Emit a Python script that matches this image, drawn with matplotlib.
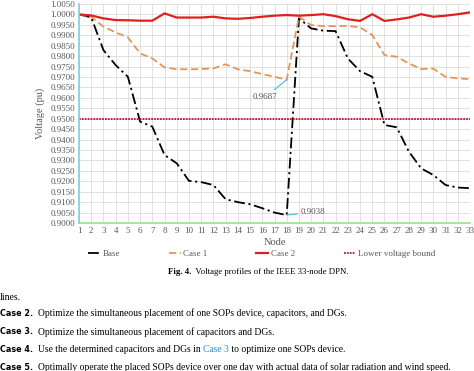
import matplotlib
matplotlib.use("Agg")
import matplotlib.pyplot as plt

nodes = list(range(1, 34))
base = [1.0000, 0.9986, 0.9829, 0.9757, 0.9701, 0.9486, 0.9462, 0.9326, 0.9286, 0.9202,
        0.9196, 0.9182, 0.9114, 0.9100, 0.9090, 0.9071, 0.9050, 0.9038, 0.9981, 0.9933,
        0.9922, 0.9920, 0.9789, 0.9728, 0.9701, 0.9470, 0.9459, 0.9342, 0.9262, 0.9230,
        0.9182, 0.9170, 0.9167]
case1 = [1.0000, 0.9989, 0.9941, 0.9914, 0.9890, 0.9813, 0.9789, 0.9746, 0.9737, 0.9737,
         0.9738, 0.9741, 0.9761, 0.9737, 0.9728, 0.9714, 0.9701, 0.9687, 0.9989, 0.9949,
         0.9944, 0.9944, 0.9945, 0.9938, 0.9901, 0.9805, 0.9797, 0.9765, 0.9738, 0.9740,
         0.9701, 0.9693, 0.9690]
case2 = [1.0000, 0.9995, 0.9981, 0.9973, 0.9972, 0.9970, 0.9970, 1.0005, 0.9985, 0.9985,
         0.9985, 0.9989, 0.9981, 0.9979, 0.9983, 0.9989, 0.9994, 0.9997, 0.9994, 0.9997,
         1.0001, 0.9992, 0.9977, 0.9969, 1.0001, 0.9969, 0.9976, 0.9985, 1.0001, 0.9989,
         0.9994, 1.0001, 1.0010]
bound = 0.95
yticks = [0.9000 + 0.005 * i for i in range(22)]

plt.rcParams['font.family'] = ['Liberation Serif', 'DejaVu Serif']
fig = plt.figure(figsize=(4.74, 3.71), dpi=100)
ax = fig.add_axes([79 / 474, 1 - 223 / 371, (470 - 79) / 474, 219 / 371])

grid_c = '#dcdcdc'
ax.set_xticks(nodes)
ax.set_yticks(yticks)
ax.grid(True, color=grid_c, lw=0.6)
ax.set_axisbelow(True)

ax.plot(nodes, base, color='black', lw=1.3, ls=(0, (6, 2, 1.2, 2)), label='Base')
ax.plot(nodes, case1, color='#e5955a', lw=1.3, ls=(0, (4, 2)), label='Case 1')
ax.plot(nodes, case2, color='#e0201b', lw=1.6, label='Case 2')
ax.axhline(bound, color='#b0182a', lw=1.3, ls=(0, (1, 0.6)), label='Lower voltage bound')

ax.set_xlim(1, 33)
ax.set_ylim(0.9, 1.005)
ax.set_yticklabels([f'{v:.4f}' for v in yticks])
ax.tick_params(labelsize=6.5, colors='#595959', length=0, pad=3)
for s in ['top', 'right']:
    ax.spines[s].set_visible(False)
ax.spines['left'].set_color('#7fd0e8')
ax.spines['left'].set_linewidth(1.2)
ax.spines['bottom'].set_color('#9be08a')
ax.spines['bottom'].set_linewidth(1.2)

ax.set_xlabel('Node', fontsize=7.5, color='#595959', labelpad=2)
ax.set_ylabel('Voltage (pu)', fontsize=7.5, color='#595959', labelpad=4)

ax.annotate('0.9687', xy=(18, case1[17]), xytext=(15.2, 0.9603), fontsize=6.5, color='#595959',
            va='center',
            arrowprops=dict(arrowstyle='-', color='#3cbcdc', lw=0.8, shrinkA=1, shrinkB=0))
ax.annotate('0.9038', xy=(18, base[17]), xytext=(19.1, 0.9052), fontsize=6.5, color='#595959',
            va='center',
            arrowprops=dict(arrowstyle='-', color='#3cbcdc', lw=0.8, shrinkA=0, shrinkB=0))

fig.legend(loc='center left', bbox_to_anchor=(80 / 474, 1 - 254 / 371), ncol=4, frameon=False,
           fontsize=6.5, handlelength=1.3, handletextpad=0.3, columnspacing=5.4,
           labelcolor='#595959')


def row(x, y, parts):
    # parts: list of (text, kwargs); drawn one after the other
    for s, kw in parts:
        t = fig.text(x, y, s, va='center', **kw)
        fig.canvas.draw()
        x = t.get_window_extent().x1 / fig.bbox.width


cap_y = 1 - 272 / 371
row(168 / 474, cap_y, [('Fig. 4.', dict(fontsize=6.3, fontweight='bold')),
                        ('  Voltage profiles of the IEEE 33-node DPN.', dict(fontsize=6.3))])

fig.text(0.0, 1 - 297 / 371, 'lines.', fontsize=7.0, va='center')
rows = [
    ('Case 2.', 'Optimize the simultaneous placement of one SOPs device, capacitors, and DGs.', 313),
    ('Case 3.', 'Optimize the simultaneous placement of capacitors and DGs.', 332),
    ('Case 4.', None, 349),
    ('Case 5.', 'Optimally operate the placed SOPs device over one day with actual data of solar radiation and wind speed.', 367),
]
body = dict(fontsize=6.95)
for lab, txt, y in rows:
    yy = 1 - y / 371
    fig.text(0.0, yy, lab, fontsize=5.8, fontweight='bold', family='DejaVu Sans', va='center')
    if txt is not None:
        fig.text(38 / 474, yy, txt, va='center', **body)
    else:
        row(38 / 474, yy, [('Use the determined capacitors and DGs in ', body),
                           ('Case 3', dict(color='#2a8fd0', **body)),
                           (' to optimize one SOPs device.', body)])

fig.savefig('out.png', dpi=100)
